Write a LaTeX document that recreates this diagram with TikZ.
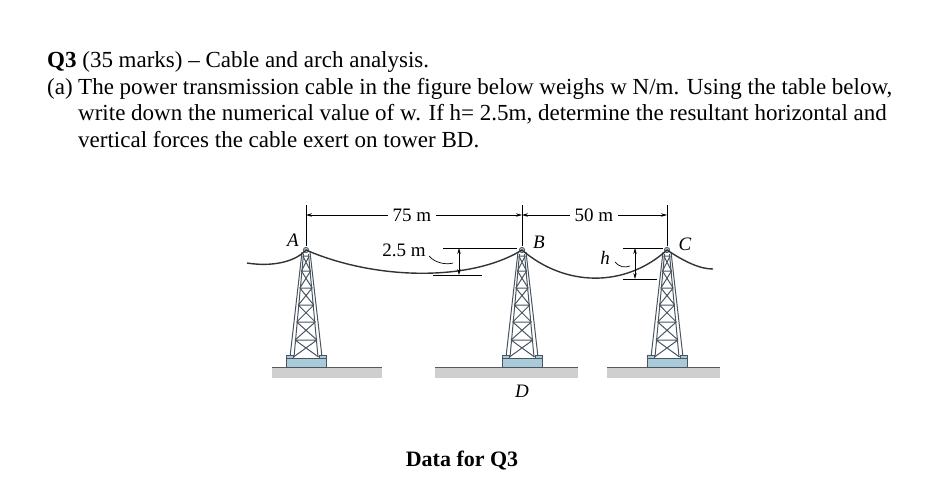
\documentclass[tikz,border=0pt]{standalone}
\usepackage{fontspec}
\setmainfont{Liberation Serif}
\usetikzlibrary{arrows.meta}
\newcommand\mytower[1]{%
\begin{scope}[shift={(#1,0)}]
\foreach \s in {-1,1}{
 \draw[tw] (\s*16,357)--(\s*4,252);
 \draw[tw] (\s*12,357)--(\s*2.5,254);}
\foreach \ya/\yb in {357/340,340/322,322/305,305/288,288/271,271/256}{
 \pgfmathsetmacro\wa{3+9.5*(\ya-254)/103}
 \pgfmathsetmacro\wb{3+9.5*(\yb-254)/103}
 \draw[tw] (-\wa,\ya)--(\wb,\yb) (\wa,\ya)--(-\wb,\yb) (-\wb,\yb)--(\wb,\yb);}
\fill[base,draw=towc,line width=0.8pt] (-20,358) rectangle (20,367);
\fill[base,draw=towc,line width=0.8pt] (-20,355) rectangle (-13,358);
\fill[base,draw=towc,line width=0.8pt] (13,355) rectangle (20,358);
\draw[towc,fill=base,line width=0.8pt] (0,250) circle (2.6);
\end{scope}}
\begin{document}
\begin{tikzpicture}[x=1pt,y=-1pt,
 tw/.style={towc,line width=1pt},
 dim/.style={line width=0.7pt},
 arr/.style={line width=0.7pt,-{Stealth[length=6pt,width=3.5pt]}},
 txt/.style={font=\fontsize{23}{27}\selectfont,anchor=base west,inner sep=0},
 lab/.style={font=\fontsize{19}{22}\selectfont,inner sep=2pt}]
\definecolor{towc}{HTML}{4A5560}
\definecolor{base}{HTML}{A9CAD9}
\definecolor{grnd}{HTML}{CFCFCF}
\useasboundingbox (0,0) rectangle (941,480);
% text
\node[txt] (t1) at (47,67) {\textbf{Q3} (35 marks) -- Cable and arch analysis.};
\node[txt] (t2) at (47,94) {(a)};
\node[txt] (t3) at (78,94) {The power transmission cable in the figure below weighs w N/m. Using the table below,};
\node[txt] (t4) at (78,120.5) {write down the numerical value of w. If h= 2.5m, determine the resultant horizontal and};
\node[txt] (t5) at (78,147) {vertical forces the cable exert on tower BD.};
\node[font=\fontsize{22}{26}\selectfont\bfseries,inner sep=0] (cap) at (462,461) {Data for Q3};
% ground
\foreach \a/\b in {272/382,435/578,607/720}{
 \fill[grnd] (\a,367) rectangle (\b,378);
 \draw[line width=1pt,gray!70!black] (\a,367)--(\b,367);}
\mytower{306}\mytower{522}\mytower{667}
\coordinate (A) at (306,250);
\coordinate (B) at (522,250);
\coordinate (C) at (667,250);
\coordinate (L) at (247,263);
\coordinate (R) at (713,269);
% cable
\draw[line width=1.4pt,gray!40!black] (L) .. controls (272,267) and (295,262) .. (A)
 .. controls (375,280) and (470,282) .. (B)
 .. controls (565,287) and (625,288) .. (C)
 .. controls (685,262) and (700,269) .. (R);
% dimensions
\coordinate (Ad) at (306,205); \coordinate (Bd) at (522,205); \coordinate (Cd) at (667,205);
\draw[dim] (306,246)--(Ad) (522,246)--(Bd) (667,246)--(Cd);
\node[lab,inner xsep=5pt] (d75) at (412,215) {75 m};
\node[lab,inner xsep=5pt] (d50) at (594,215) {50 m};
\draw[arr] (d75.west)--(306,215);
\draw[arr] (d75.east)--(522,215);
\draw[arr] (d50.west)--(522,215);
\draw[arr] (d50.east)--(667,215);
\node[lab] (nA) at (293,240) {\itshape A};
\node[lab] (nB) at (539,242) {\itshape B};
\node[lab] (nC) at (685,244) {\itshape C};
\node[lab] (nD) at (522,391) {\itshape D};
% 2.5 m
\draw[dim] (443,248)--(517,248) (433,275)--(482,275);
\coordinate (s1) at (459,248); \coordinate (s2) at (459,275);
\draw[arr] (459,262)--(s1);
\draw[arr] (459,262)--(s2);
\node[lab] (n25) at (404,250) {2.5 m};
\draw[dim] (429,256) .. controls (435,263) and (446,265) .. (453,263);
% h
\draw[dim] (623,248)--(663,248) (623,279)--(657,279);
\coordinate (h1) at (635,248); \coordinate (h2) at (635,279);
\draw[arr] (635,263)--(h1);
\draw[arr] (635,263)--(h2);
\node[lab] (nh) at (605,258) {\itshape h};
\draw[dim] (615,262) .. controls (619,267) and (625,268) .. (630,266);
\end{tikzpicture}
\end{document}
